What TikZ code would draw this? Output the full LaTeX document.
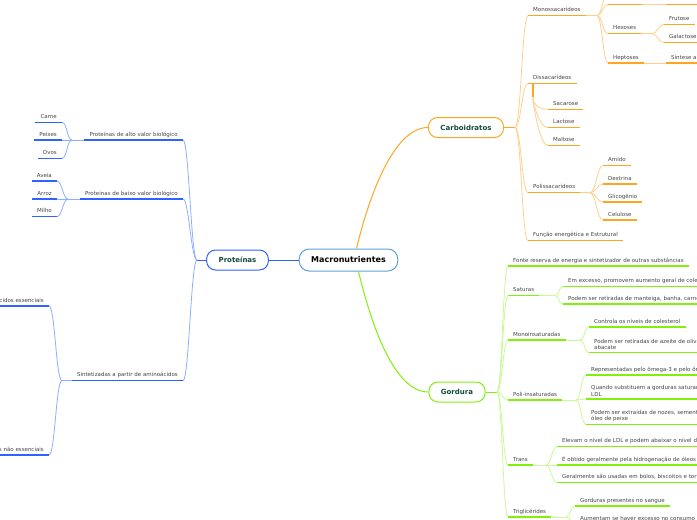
\documentclass[tikz,border=0pt]{standalone}
\usepackage{fontspec}
\setmainfont{DejaVu Sans}
\usepackage{tikz}
\usetikzlibrary{positioning, calc}
\definecolor{carbdark}{HTML}{FFA620}
\definecolor{carbsoft}{HTML}{FFD08C}
\definecolor{gorddark}{HTML}{80F20A}
\definecolor{gordsoft}{HTML}{C8FA96}
\definecolor{protdark}{HTML}{2F62FF}
\definecolor{protsoft}{HTML}{8EAEFF}
\definecolor{rootblue}{HTML}{5FA2DA}
\definecolor{topicgreen}{HTML}{124A3C}
\definecolor{leafgray}{HTML}{464646}
\tikzset{
  rootbox/.style={rectangle, rounded corners=10pt, draw=rootblue, line width=1pt, fill=white,
    font=\fontsize{8}{9}\selectfont\bfseries, text=black, inner xsep=12pt, minimum height=22pt},
  topicbox/.style={rectangle, rounded corners=9pt, line width=1pt, fill=white,
    font=\fontsize{7}{8}\selectfont\bfseries, text=topicgreen, inner xsep=12pt, minimum height=20pt},
  leafbase/.style={font=\fontsize{5.5}{6.4}\selectfont, text=leafgray, align=left,
    inner xsep=5pt, inner ysep=2.5pt},
  leafr/.style={leafbase, text depth=1.2pt, anchor=south west},
  leafm/.style={leafbase, anchor=south west},
  leafl/.style={leafbase, text depth=1.2pt, anchor=south east},
  carbul/.style={draw=carbdark, line width=1.5pt},
  carbln/.style={draw=carbsoft, line width=0.8pt},
  gordul/.style={draw=gorddark, line width=1.5pt},
  gordln/.style={draw=gordsoft, line width=0.8pt},
  protul/.style={draw=protdark, line width=1.5pt},
  protln/.style={draw=protsoft, line width=0.8pt},
}

\begin{document}
\begin{tikzpicture}[x=1pt, y=-1pt]
    \path[use as bounding box, fill=white] (0,0) rectangle (697,520);
    \clip (0,0) rectangle (697,520);

    % Central topics
    \node[rootbox] (macro) at (348.5,260) {Macronutrientes};
    \node[topicbox, draw=protdark] (prot) at (237.5,260) {Proteínas};
    \node[topicbox, draw=carbdark] (carb) at (466,127.5) {Carboidratos};
    \node[topicbox, draw=gorddark] (gord) at (457,392) {Gordura};

    \draw[protdark, line width=0.9pt] (macro) -- (prot);
    \draw[carbdark, line width=1pt] ([xshift=8pt]macro.north) .. controls +(12,-50) and +(-35,0) .. (carb.west);
    \draw[gorddark, line width=1pt] ([xshift=10pt]macro.south) .. controls +(12,50) and +(-35,0) .. (gord.west);

    % Carboidratos
    \node[leafr] (mono) at (528,15.7) {Monossacarídeos};
    \node[leafr] (dis) at (528,83.3) {Dissacarídeos};
    \node[leafr] (poli) at (528,192.7) {Polissacarídeos};
    \node[leafr] (func) at (528,240.7) {Função energética e Estrutural};
    \node[leafr] (hex) at (608,33.7) {Hexoses};
    \node[leafr] (hep) at (608,63) {Heptoses};
    \node[leafr] (fru) at (664,24.3) {Frutose};
    \node[leafr] (gal) at (664,42.7) {Galactose};
    \node[leafr] (sin) at (666,63) {Síntese a};
    \node[leafr] (sac) at (548,109.3) {Sacarose};
    \node[leafr] (lac) at (548,127.7) {Lactose};
    \node[leafr] (mal) at (548,145.7) {Maltose};
    \node[leafr] (ami) at (603,165.7) {Amido};
    \node[leafr] (dex) at (603,184) {Dextrina};
    \node[leafr] (gli) at (603,202) {Glicogênio};
    \node[leafr] (cel) at (603,220) {Celulose};
    \coordinate (monocA) at (608,4.3);
    \coordinate (monocAe) at (642,4.3);
    \coordinate (monocB) at (666,4.3);
    \coordinate (monocBe) at (700,4.3);
    \coordinate (monoup) at (610,-14);

    \coordinate (carbj) at (515,127.5);
    \coordinate (monoj) at (597,15.7);
    \coordinate (hexj) at (652,33.7);
    \coordinate (polij) at (590,192.7);
    \draw[carbdark, line width=1pt] (carb.east) -- (carbj);
    \foreach \n in {mono,dis,poli,func}
        \draw[carbln] (carbj) .. controls +(6,0) and +(-6,0) .. (\n.south west);
    \draw[carbln] (mono.south east) -- (monoj);
    \foreach \n in {hex,hep}
        \draw[carbln] (monoj) .. controls +(5,0) and +(-5,0) .. (\n.south west);
    \draw[carbln] (monoj) .. controls +(5,0) and +(-5,0) .. (monocA);
    \draw[carbln] (monoj) .. controls +(5,0) and +(-5,0) .. (monoup);
    \draw[carbul] (monocA) -- (monocAe);
    \draw[carbln] (monocAe) -- (monocB);
    \draw[carbul] (monocB) -- (monocBe);
    \draw[carbln] (hex.south east) -- (hexj);
    \foreach \n in {fru,gal}
        \draw[carbln] (hexj) .. controls +(5,0) and +(-5,0) .. (\n.south west);
    \draw[carbln] (hep.south east) -- (sin.south west);
    \draw[carbul] ([xshift=5pt]dis.south west) -- ++(0,14) coordinate (disj);
    \foreach \n in {sac,lac,mal}
        \draw[carbln] (disj) .. controls +(0,8) and +(-8,0) .. (\n.south west);
    \draw[carbln] (poli.south east) -- (polij);
    \foreach \n in {ami,dex,gli,cel}
        \draw[carbln] (polij) .. controls +(6,0) and +(-6,0) .. (\n.south west);
    \foreach \n in {mono,dis,poli,func,hex,hep,fru,gal,sin,sac,lac,mal,ami,dex,gli,cel}
        \draw[carbul] (\n.south west) -- (\n.south east);

    % Gordura
    \node[leafr] (fonte) at (508,266) {Fonte reserva de energia e sintetizador de outras substâncias};
    \node[leafr] (sat) at (508,295.7) {Saturas};
    \node[leafr] (mins) at (508,340) {Monoinsaturadas};
    \node[leafr] (pins) at (508,400) {Poli-insaturadas};
    \node[leafr] (trans) at (508,465) {Trans};
    \node[leafr] (tri) at (508,517) {Triglicérides};
    \node[leafr] (satA) at (563,286.7) {Em excesso, promovem aumento geral de colesterol};
    \node[leafr] (satB) at (563,304) {Podem ser retiradas de manteiga, banha, carnes};
    \node[leafr] (minsA) at (589,327) {Controla os níveis de colesterol};
    \node[leafm] (minsB) at (589,352.7) {Podem ser retiradas de azeite de oliva\\abacate};
    \node[leafr] (pinsA) at (586,375) {Representadas pelo ômega-3 e pelo ômega-6};
    \node[leafm] (pinsB) at (586,399) {Quando substituem a gorduras saturadas\\LDL};
    \node[leafm] (pinsC) at (586,424.3) {Podem ser extraídas de nozes, sementes\\óleo de peixe};
    \node[leafr] (transA) at (557,446.7) {Elevam o nível de LDL e podem abaixar o nível de HDL};
    \node[leafr] (transB) at (557,465) {É obtido geralmente pela hidrogenação de óleos};
    \node[leafr] (transC) at (557,482.7) {Geralmente são usadas em bolos, biscoitos e tortas};
    \node[leafr] (triA) at (575,506) {Gorduras presentes no sangue};
    \node[leafr] (triB) at (575,524) {Aumentam se haver excesso no consumo};

    \coordinate (gordj) at (497,392);
    \coordinate (satj) at (555,295.7);
    \coordinate (minsj) at (580,340);
    \coordinate (pinsj) at (576,400);
    \coordinate (transj) at (546,465);
    \coordinate (trij) at (566,517);
    \draw[gorddark, line width=1pt] (gord.east) -- (gordj);
    \foreach \n in {fonte,sat,mins,pins,trans,tri}
        \draw[gordln] (gordj) .. controls +(5,0) and +(-5,0) .. (\n.south west);
    \draw[gordln] (sat.south east) -- (satj);
    \foreach \n in {satA,satB}
        \draw[gordln] (satj) .. controls +(5,0) and +(-5,0) .. (\n.south west);
    \draw[gordln] (mins.south east) -- (minsj);
    \foreach \n in {minsA,minsB}
        \draw[gordln] (minsj) .. controls +(5,0) and +(-5,0) .. (\n.south west);
    \draw[gordln] (pins.south east) -- (pinsj);
    \foreach \n in {pinsA,pinsB,pinsC}
        \draw[gordln] (pinsj) .. controls +(5,0) and +(-5,0) .. (\n.south west);
    \draw[gordln] (trans.south east) -- (transj);
    \foreach \n in {transA,transB,transC}
        \draw[gordln] (transj) .. controls +(5,0) and +(-5,0) .. (\n.south west);
    \draw[gordln] (tri.south east) -- (trij);
    \foreach \n in {triA,triB}
        \draw[gordln] (trij) .. controls +(5,0) and +(-5,0) .. (\n.south west);
    \foreach \n in {fonte,sat,mins,pins,trans,tri,satA,satB,minsA,minsB,pinsA,pinsB,pinsC,transA,transB,transC,triA,triB}
        \draw[gordul] (\n.south west) -- (\n.south east);

    % Proteinas
    \node[leafl] (alto) at (183,140) {Proteínas de alto valor biológico};
    \node[leafl] (baixo) at (183,199) {Proteínas de baixo valor biológico};
    \node[leafl] (sint) at (183,380.7) {Sintetizadas a partir de aminoácidos};
    \node[leafl] (carne) at (62,122.3) {Carne};
    \node[leafl] (peixes) at (62,140) {Peixes};
    \node[leafl] (ovos) at (62,158.3) {Ovos};
    \node[leafl] (aveia) at (57,181) {Aveia};
    \node[leafl] (arroz) at (57,199) {Arroz};
    \node[leafl] (milho) at (57,216.7) {Milho};
    \node[leafl] (ess) at (49,306) {Aminoácidos essenciais};
    \node[leafl] (ness) at (49,455) {Aminoácidos não essenciais};

    \coordinate (protj) at (197,260);
    \coordinate (altoj) at (72,140);
    \coordinate (baixoj) at (68,199);
    \coordinate (sintj) at (62,380.7);
    \draw[protdark, line width=1pt] (prot.west) -- (protj);
    \foreach \n in {alto,baixo,sint}
        \draw[protln] (protj) .. controls +(-6,0) and +(6,0) .. (\n.south east);
    \draw[protln] (alto.south west) -- (altoj);
    \foreach \n in {carne,peixes,ovos}
        \draw[protln] (altoj) .. controls +(-5,0) and +(5,0) .. (\n.south east);
    \draw[protln] (baixo.south west) -- (baixoj);
    \foreach \n in {aveia,arroz,milho}
        \draw[protln] (baixoj) .. controls +(-5,0) and +(5,0) .. (\n.south east);
    \draw[protln] (sint.south west) -- (sintj);
    \foreach \n in {ess,ness}
        \draw[protln] (sintj) .. controls +(-6,0) and +(6,0) .. (\n.south east);
    \foreach \n in {alto,baixo,sint,carne,peixes,ovos,aveia,arroz,milho,ess,ness}
        \draw[protul] (\n.south west) -- (\n.south east);
\end{tikzpicture}
\end{document}
